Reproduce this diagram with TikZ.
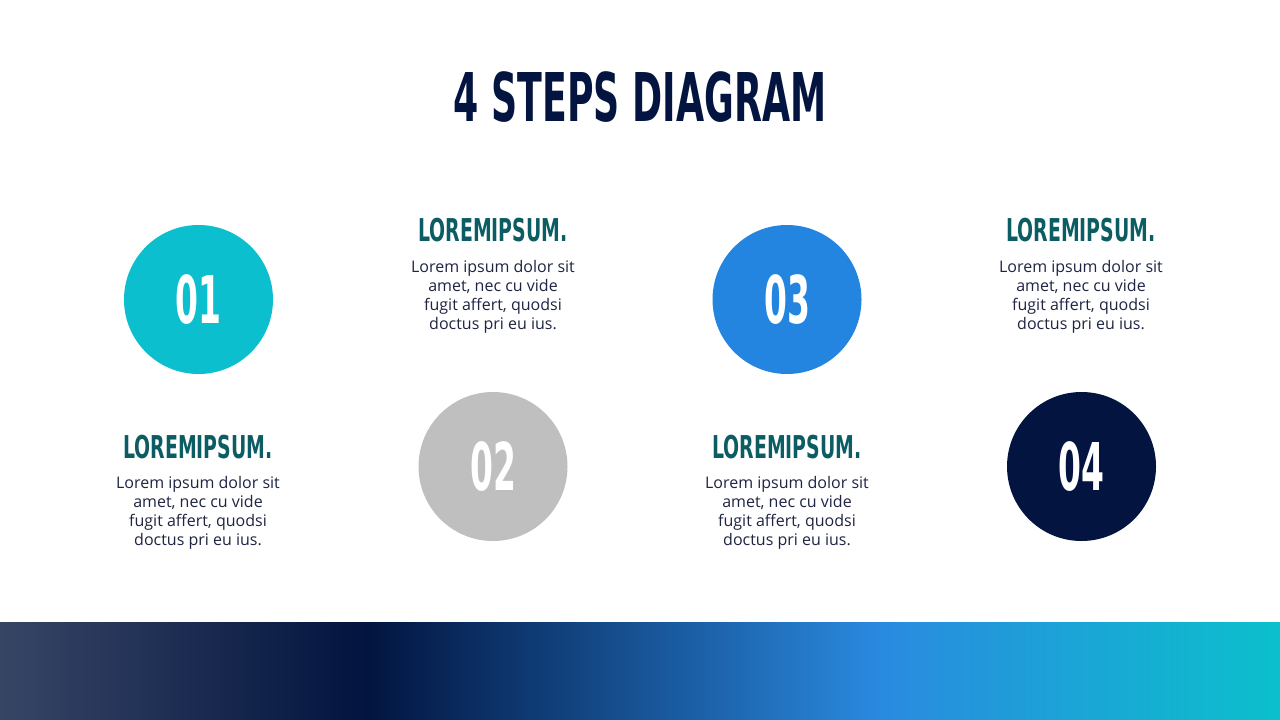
\documentclass[tikz,border=0pt]{standalone}
\usepackage{fontspec}
\setmainfont{Open Sans}
\newfontfamily\titlefont[FakeStretch=0.54]{DejaVu Sans}
\newfontfamily\headfont[FakeStretch=0.6]{DejaVu Sans}
\newfontfamily\numfont[FakeStretch=0.5]{DejaVu Sans}
\definecolor{navy}{HTML}{02143F}
\definecolor{teal}{HTML}{0B5D63}
\definecolor{cyanstep}{HTML}{0BBFCE}
\definecolor{greystep}{HTML}{BFBFBF}
\definecolor{bluestep}{HTML}{2385E0}
\definecolor{bodytext}{HTML}{1E2442}
\definecolor{barleft}{HTML}{374565}
\definecolor{barblue}{HTML}{2A8AE0}
\definecolor{barcyan}{HTML}{0BC0CC}

\begin{document}
\begin{tikzpicture}[x=0.75pt,y=-0.75pt,
	stepcircle/.style={circle, minimum size=149*0.75pt, inner sep=0pt, text=white,
		font=\numfont\bfseries\fontsize{49.4}{50}\selectfont},
	headline/.style={anchor=base, inner sep=0pt, text=teal,
		font=\headfont\bfseries\fontsize{23.6}{24}\selectfont},
	bodyblock/.style={anchor=base, inner sep=0pt, align=center, text=bodytext,
		font=\fontsize{12}{14.25}\selectfont}]
	\useasboundingbox (0,0) rectangle (1280,720);

	% title
	\node (title)[anchor=base, inner sep=0pt, text=navy,
		font=\titlefont\bfseries\fontsize{50.4}{51}\selectfont] at (640,122) {4 STEPS DIAGRAM};

	% circles
	\node (s1)[stepcircle, fill=cyanstep] at (198.5,299.5) {01};
	\node (s2)[stepcircle, fill=greystep] at (493,466.5) {02};
	\node (s3)[stepcircle, fill=bluestep] at (787,299.5) {03};
	\node (s4)[stepcircle, fill=navy] at (1081.5,466.5) {04};

	% texts (base = last line)
	\node (h2)[headline] at (493,242) {LOREMIPSUM.};
	\node (b2)[bodyblock] at (493,329) {Lorem ipsum dolor sit\\amet, nec cu vide\\fugit affert, quodsi\\doctus pri eu ius.};
	\node (h4)[headline] at (1081,242) {LOREMIPSUM.};
	\node (b4)[bodyblock] at (1081,329) {Lorem ipsum dolor sit\\amet, nec cu vide\\fugit affert, quodsi\\doctus pri eu ius.};
	\node (h1)[headline] at (198,458) {LOREMIPSUM.};
	\node (b1)[bodyblock] at (198,545) {Lorem ipsum dolor sit\\amet, nec cu vide\\fugit affert, quodsi\\doctus pri eu ius.};
	\node (h3)[headline] at (787,458) {LOREMIPSUM.};
	\node (b3)[bodyblock] at (787,545) {Lorem ipsum dolor sit\\amet, nec cu vide\\fugit affert, quodsi\\doctus pri eu ius.};

	% bottom bar
	\shade[left color=barleft, right color=navy] (0,622) rectangle (366,720);
	\shade[left color=navy, right color=barblue] (365,622) rectangle (881,720);
	\shade[left color=barblue, right color=barcyan] (880,622) rectangle (1280,720);
\end{tikzpicture}
\end{document}
